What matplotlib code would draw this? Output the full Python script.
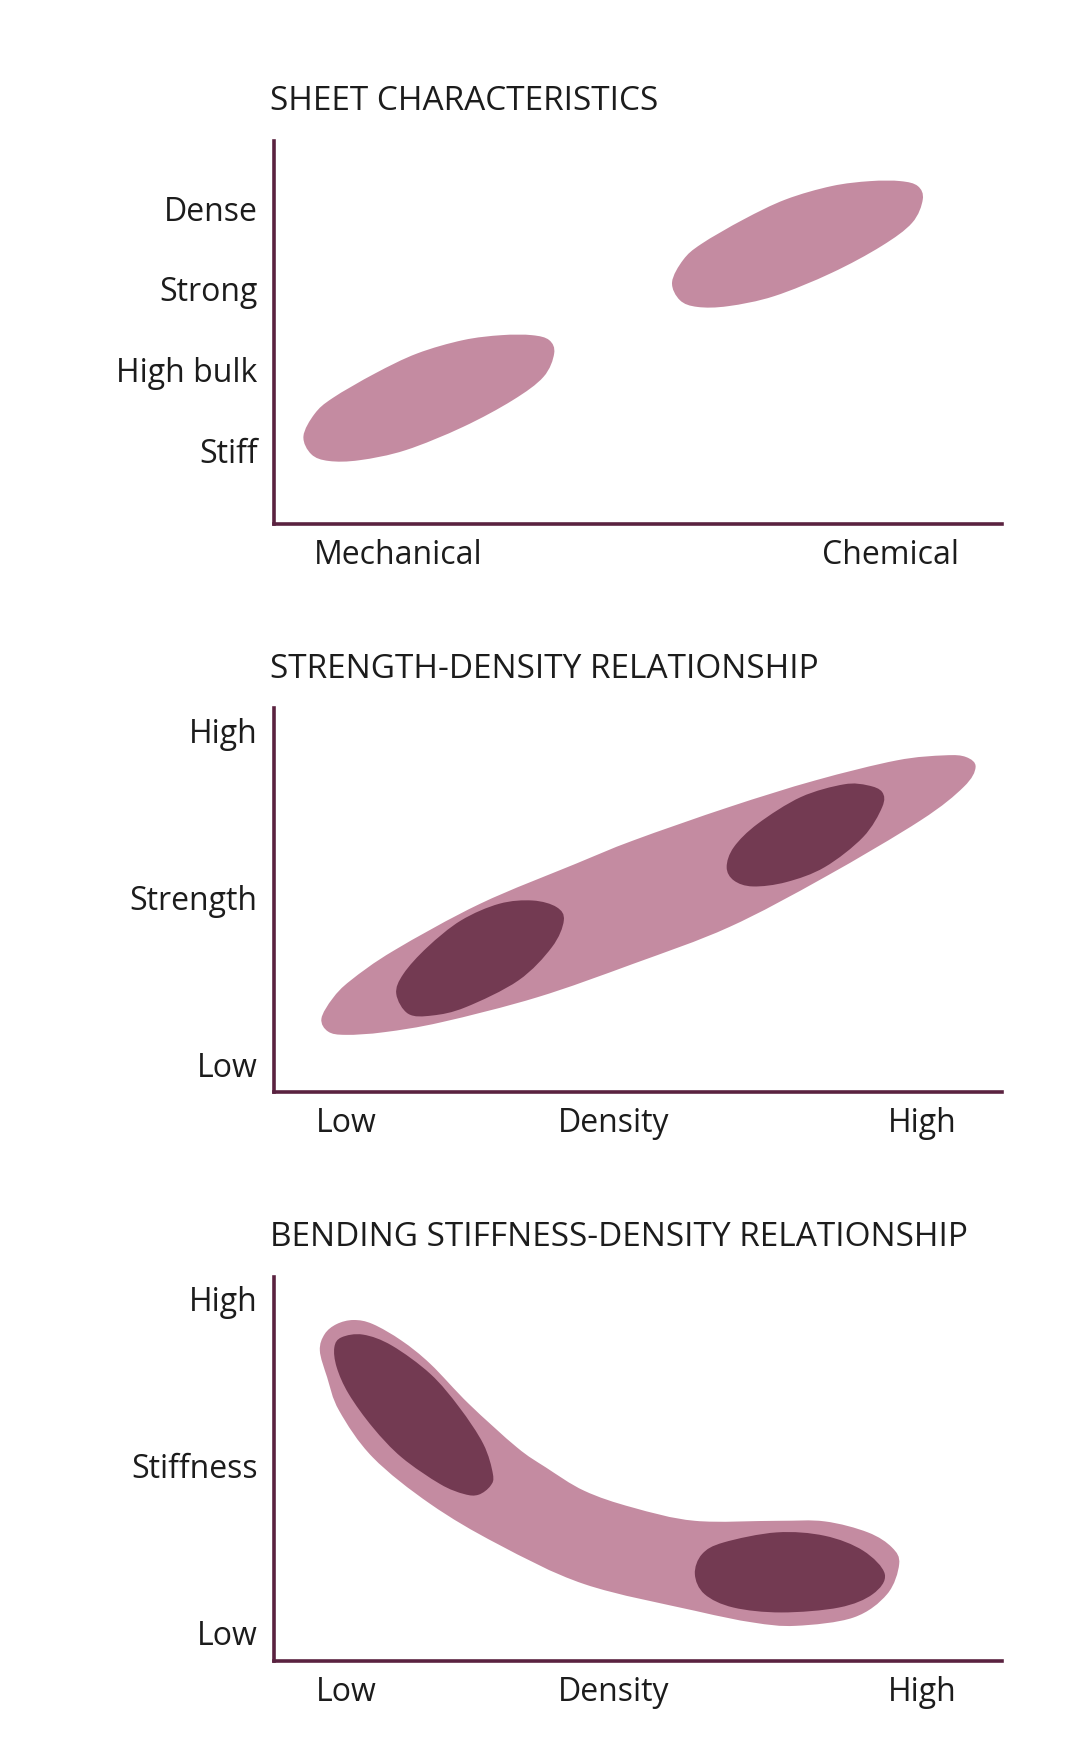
import numpy as np
import matplotlib.pyplot as plt
from matplotlib.path import Path
from matplotlib.patches import PathPatch

plt.rcParams['font.family'] = ['Open Sans', 'DejaVu Sans']

# --- data (axis units, outline points of each region) ---
titles = ["SHEET CHARACTERISTICS", "STRENGTH-DENSITY RELATIONSHIP",
          "BENDING STIFFNESS-DENSITY RELATIONSHIP"]

# panel 1: sheet characteristics
sheet_xticks = [11.0, 54.8]
sheet_xlabels = ["Mechanical", "Chemical"]
sheet_yticks = [6.5, 13.7, 20.9, 28.1]
sheet_ylabels = ["Stiff", "High bulk", "Strong", "Dense"]
mech_x = [2.6, 3.3, 4.87, 7.6, 11.69, 16.8, 21.23, 23.96, 24.91, 24.47, 22.94,
          20.21, 16.8, 12.71, 8.96, 5.2, 3.6]
mech_y = [7.8, 6.2, 5.6, 5.67, 6.56, 8.63, 11.01, 13.08, 15.16, 16.35, 16.79,
          16.79, 16.35, 15.16, 13.38, 11.2, 9.8]
chem_x = [35.4, 36.1, 37.67, 40.4, 44.49, 49.6, 54.03, 56.76, 57.71, 57.27, 55.74,
          53.01, 49.6, 45.51, 41.76, 38.0, 36.4]
chem_y = [21.5, 19.9, 19.3, 19.37, 20.26, 22.33, 24.71, 26.78, 28.86, 30.05, 30.49,
          30.49, 30.05, 28.86, 27.08, 24.9, 23.5]

# panel 2: strength vs density
dens_xticks = [6.4, 30.2, 57.7]
dens_xlabels = ["Low", "Density", "High"]
str_yticks = [2.4, 17.3, 32.1]
str_ylabels = ["Low", "Strength", "High"]
str_all_x = [4.2, 4.8, 6.39, 9.8, 14.91, 23.43, 31.95, 40.47, 48.99, 57.51, 61.34,
             62.41, 61.56, 59.64, 55.38, 48.14, 40.47, 31.95, 26.84, 18.32, 10.65, 6.8, 5.2]
str_all_y = [6.5, 5.35, 5.06, 5.3, 6.19, 8.41, 11.38, 14.64, 19.09, 24.13, 27.1,
             28.88, 29.77, 29.92, 29.47, 27.69, 25.32, 22.35, 20.28, 16.72, 12.56, 9.9, 8.3]
str_low_x = [10.86, 11.93, 14.06, 17.04, 21.73, 24.71, 25.77, 25.13, 23.0, 20.02,
             16.61, 13.63, 11.5]
str_low_y = [8.71, 6.93, 6.78, 7.52, 9.9, 12.86, 15.23, 16.42, 17.01, 16.72,
             15.23, 12.86, 10.49]
str_high_x = [40.26, 40.9, 42.6, 45.58, 48.99, 52.4, 54.1, 54.1, 52.82, 50.69,
              46.86, 43.03, 40.9]
str_high_y = [19.98, 18.79, 18.26, 18.65, 19.98, 22.65, 25.32, 26.65, 27.25, 27.34,
              26.21, 23.84, 21.76]

# panel 3: bending stiffness vs density
stf_yticks = [2.5, 17.4, 32.2]
stf_ylabels = ["Low", "Stiffness", "High"]
stf_all_x = [7.06, 5.56, 4.49, 4.06, 4.71, 5.78, 8.77, 13.9, 19.89, 27.59, 37.43,
             42.57, 46.42, 51.55, 54.54, 55.61, 54.97, 52.83, 48.98, 44.7, 37.43,
             31.87, 27.59, 24.17, 21.6, 17.33, 13.9, 11.34, 8.77]
stf_all_y = [30.3, 29.94, 29.05, 27.57, 25.2, 22.23, 18.08, 13.93, 10.37, 6.81, 4.44,
             3.4, 3.1, 3.84, 5.92, 8.59, 10.07, 11.41, 12.39, 12.44, 12.44,
             13.63, 15.11, 17.19, 18.97, 22.83, 26.39, 28.46, 29.94]
stf_low_x = [5.99, 5.35, 5.56, 6.63, 8.77, 11.34, 14.76, 16.9, 18.18, 19.25, 19.46,
             18.61, 16.47, 13.9, 10.48, 7.91]
stf_low_y = [28.76, 27.87, 26.09, 23.72, 20.75, 18.08, 15.71, 14.82, 14.76, 15.56, 16.6,
             19.27, 22.53, 25.5, 28.02, 29.0]
stf_high_x = [37.43, 38.07, 40.0, 44.71, 48.98, 52.41, 54.33, 53.26, 50.27, 45.13,
              40.85, 38.29]
stf_high_y = [7.7, 9.48, 10.52, 11.41, 11.11, 9.78, 7.7, 5.92, 4.73, 4.29, 4.73, 5.92]

LIGHT = "#c48ba1"
DARK = "#733a52"
AXIS = "#5a2240"
TEXT = "#1c1c1c"


# closed smooth outline through the given points (catmull-rom as bezier)
def blob(ax, xs, ys, color):
    p = np.column_stack([xs, ys])
    n = len(p)
    verts = [p[0]]
    codes = [Path.MOVETO]
    for i in range(n):
        p0, p1, p2, p3 = p[i - 1], p[i], p[(i + 1) % n], p[(i + 2) % n]
        verts += [p1 + (p2 - p0) / 6, p2 - (p3 - p1) / 6, p2]
        codes += [Path.CURVE4] * 3
    ax.add_patch(PathPatch(Path(verts, codes), facecolor=color, edgecolor="none"))


def setup(ax, xt, xl, yt, yl):
    ax.set_xlim(0, 64.8)
    ax.set_ylim(0, 34.1)
    for s in ["top", "right"]:
        ax.spines[s].set_visible(False)
    for s in ["left", "bottom"]:
        ax.spines[s].set_color(AXIS)
        ax.spines[s].set_linewidth(2.6)
    ax.set_xticks(xt, xl)
    ax.set_yticks(yt, yl)
    ax.tick_params(axis="both", length=0, labelsize=23, colors=TEXT)
    ax.tick_params(axis="x", pad=11)
    ax.tick_params(axis="y", pad=12)


fig = plt.figure(figsize=(10.8, 17.63), dpi=100)
W, H = 961, 1568
bottoms = [466, 971, 1477]
title_base = [98, 603, 1108]
axes = []
for b in bottoms:
    axes.append(fig.add_axes([244 / W, 1 - b / H, 648 / W, 341 / H]))

setup(axes[0], sheet_xticks, sheet_xlabels, sheet_yticks, sheet_ylabels)
blob(axes[0], mech_x, mech_y, LIGHT)
blob(axes[0], chem_x, chem_y, LIGHT)

setup(axes[1], dens_xticks, dens_xlabels, str_yticks, str_ylabels)
blob(axes[1], str_all_x, str_all_y, LIGHT)
blob(axes[1], str_low_x, str_low_y, DARK)
blob(axes[1], str_high_x, str_high_y, DARK)

setup(axes[2], dens_xticks, dens_xlabels, stf_yticks, stf_ylabels)
blob(axes[2], stf_all_x, stf_all_y, LIGHT)
blob(axes[2], stf_low_x, stf_low_y, DARK)
blob(axes[2], stf_high_x, stf_high_y, DARK)

for t, ty in zip(titles, title_base):
    fig.text(240 / W, 1 - ty / H, t, fontsize=24, color=TEXT, ha="left", va="baseline")

fig.savefig("out.png", dpi=100, facecolor="white")
